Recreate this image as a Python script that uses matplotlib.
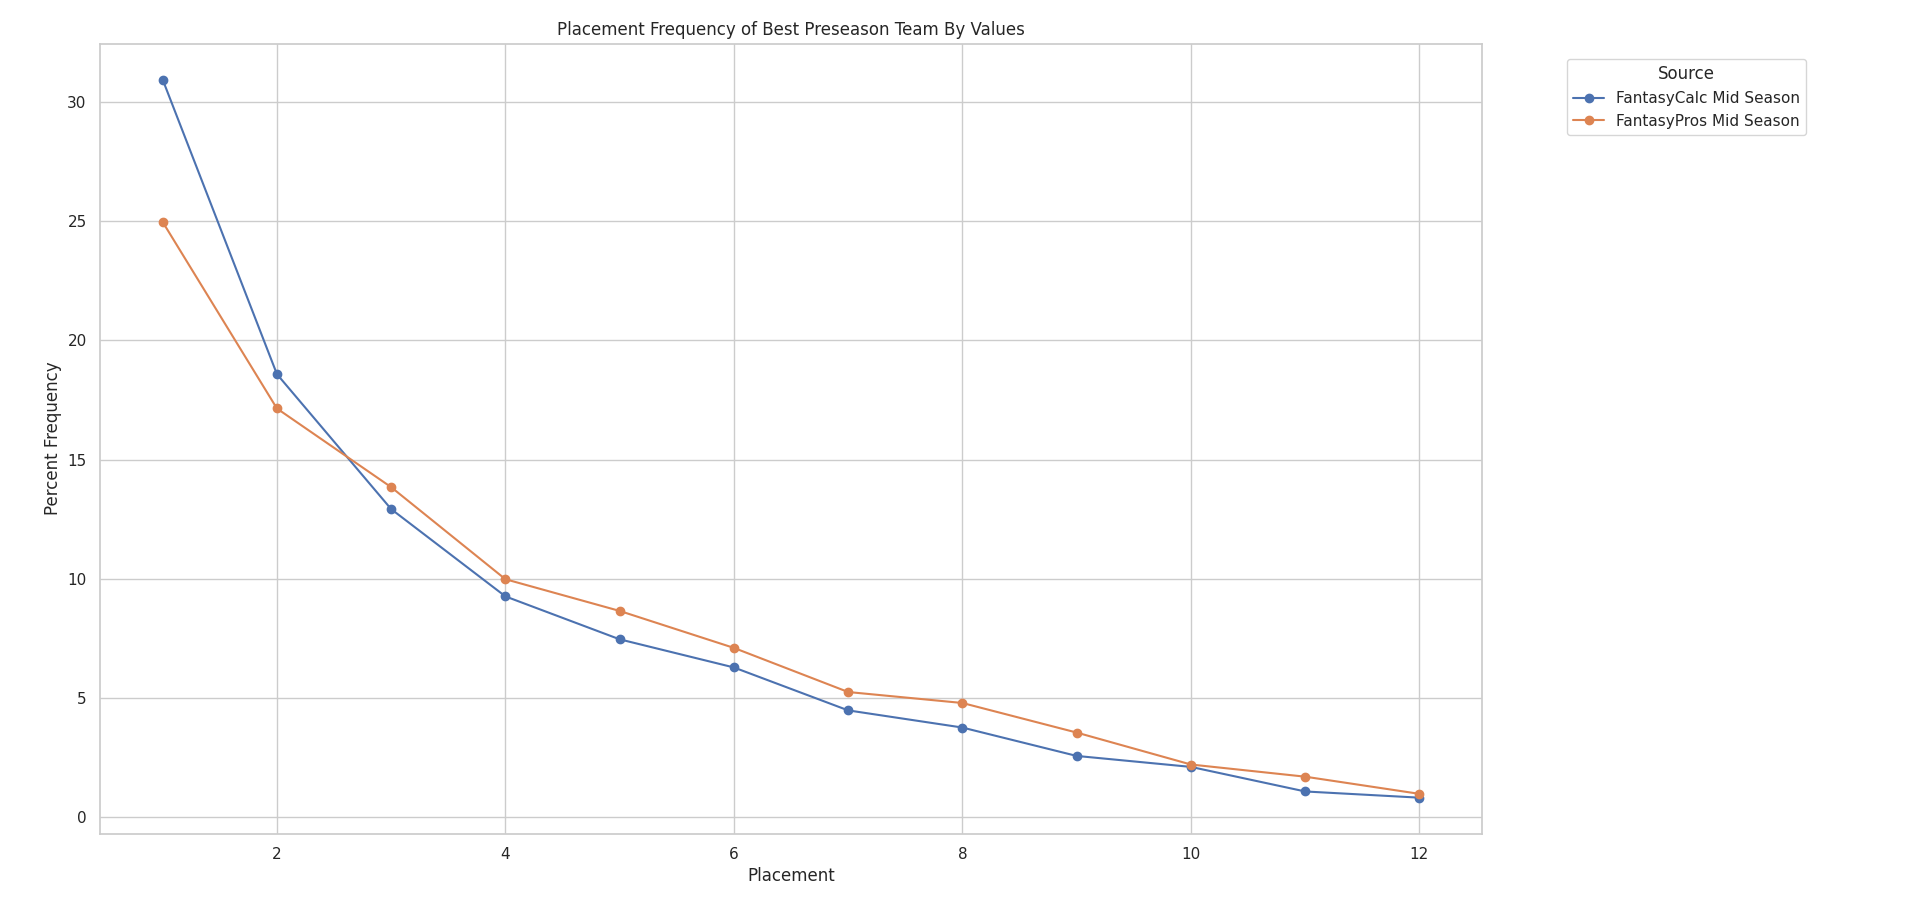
import matplotlib
matplotlib.use("Agg")
import matplotlib.pyplot as plt
import seaborn as sns

sns.set_theme(style="whitegrid")

placement = [1, 2, 3, 4, 5, 6, 7, 8, 9, 10, 11, 12]
fantasycalc = [30.93, 18.58, 12.92, 9.26, 7.46, 6.28, 4.48, 3.76, 2.57, 2.11, 1.08, 0.82]
fantasypros = [24.96, 17.14, 13.84, 9.98, 8.65, 7.10, 5.25, 4.79, 3.55, 2.21, 1.70, 0.98]

fig, ax = plt.subplots(figsize=(19.2, 9.11), dpi=100)
fig.subplots_adjust(left=0.052, right=0.772, top=0.952, bottom=0.085)

ax.plot(placement, fantasycalc, marker="o", label="FantasyCalc Mid Season")
ax.plot(placement, fantasypros, marker="o", label="FantasyPros Mid Season")

ax.set_title("Placement Frequency of Best Preseason Team By Values")
ax.set_xlabel("Placement")
ax.set_ylabel("Percent Frequency")
ax.legend(title="Source", loc="upper left", bbox_to_anchor=(1.056, 0.99))

fig.savefig("out.png")
